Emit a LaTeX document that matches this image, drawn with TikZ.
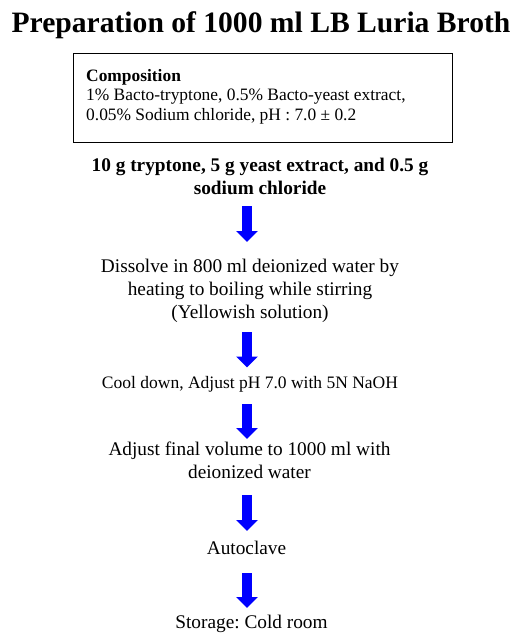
\documentclass[tikz,border=0pt]{standalone}
\usepackage{fontspec}
\setmainfont{Liberation Serif}
\usetikzlibrary{arrows.meta}
\definecolor{flowblue}{RGB}{0,0,255}
\tikzset{
  txt/.style={inner sep=0pt, align=center, anchor=base},
  flow/.style={draw=flowblue, line width=10pt, -{Triangle[width=21pt,length=11pt,fill=flowblue]}},
  framebox/.style={draw=black, line width=1.4pt, inner sep=0pt, anchor=north west}
}
\frenchspacing
\begin{document}
\begin{tikzpicture}[x=1pt,y=-1pt]
\useasboundingbox (0,0) rectangle (523,641);
% title
\node[txt, font=\fontsize{29.6}{34}\selectfont\bfseries] (title) at (261,32) {Preparation of 1000 ml LB Luria Broth};
% composition box
\node[framebox, minimum width=379pt, minimum height=89pt] (box) at (73,52.5) {};
\node[inner sep=0pt, anchor=base west, align=left, font=\fontsize{17.4}{19.8}\selectfont] (comp) at (86,120.6)
  {\textbf{Composition}\\1\% Bacto-tryptone, 0.5\% Bacto-yeast extract,\\0.05\% Sodium chloride, pH : 7.0 ± 0.2};
% steps (base anchor = baseline of the last line)
\node[txt, font=\fontsize{19.3}{22.3}\selectfont\bfseries] (s1) at (260,194) {10 g tryptone, 5 g yeast extract, and 0.5 g\\sodium chloride};
\node[txt, font=\fontsize{19.3}{23}\selectfont] (s2) at (250,318) {Dissolve in 800 ml deionized water by\\heating to boiling while stirring\\(Yellowish solution)};
\node[txt, font=\fontsize{17.5}{21}\selectfont] (s3) at (250,388) {Cool down, Adjust pH 7.0 with 5N NaOH};
\node[txt, font=\fontsize{19.3}{23}\selectfont] (s4) at (249.5,478) {Adjust final volume to 1000 ml with\\deionized water};
\node[txt, font=\fontsize{19.3}{23}\selectfont] (s5) at (246.5,554) {Autoclave};
\node[txt, font=\fontsize{19.3}{23}\selectfont] (s6) at (251.5,628) {Storage: Cold room};
% arrow ends
\coordinate (a1s) at (247,206);   \coordinate (a1e) at (247,242);
\coordinate (a2s) at (247,332);   \coordinate (a2e) at (247,367.5);
\coordinate (a3s) at (247,404);   \coordinate (a3e) at (247,439);
\coordinate (a4s) at (247,495);   \coordinate (a4e) at (247,531);
\coordinate (a5s) at (247,573);   \coordinate (a5e) at (247,608);
\draw[flow] (a1s) -- (a1e);
\draw[flow] (a2s) -- (a2e);
\draw[flow] (a3s) -- (a3e);
\draw[flow] (a4s) -- (a4e);
\draw[flow] (a5s) -- (a5e);
\end{tikzpicture}
\end{document}
